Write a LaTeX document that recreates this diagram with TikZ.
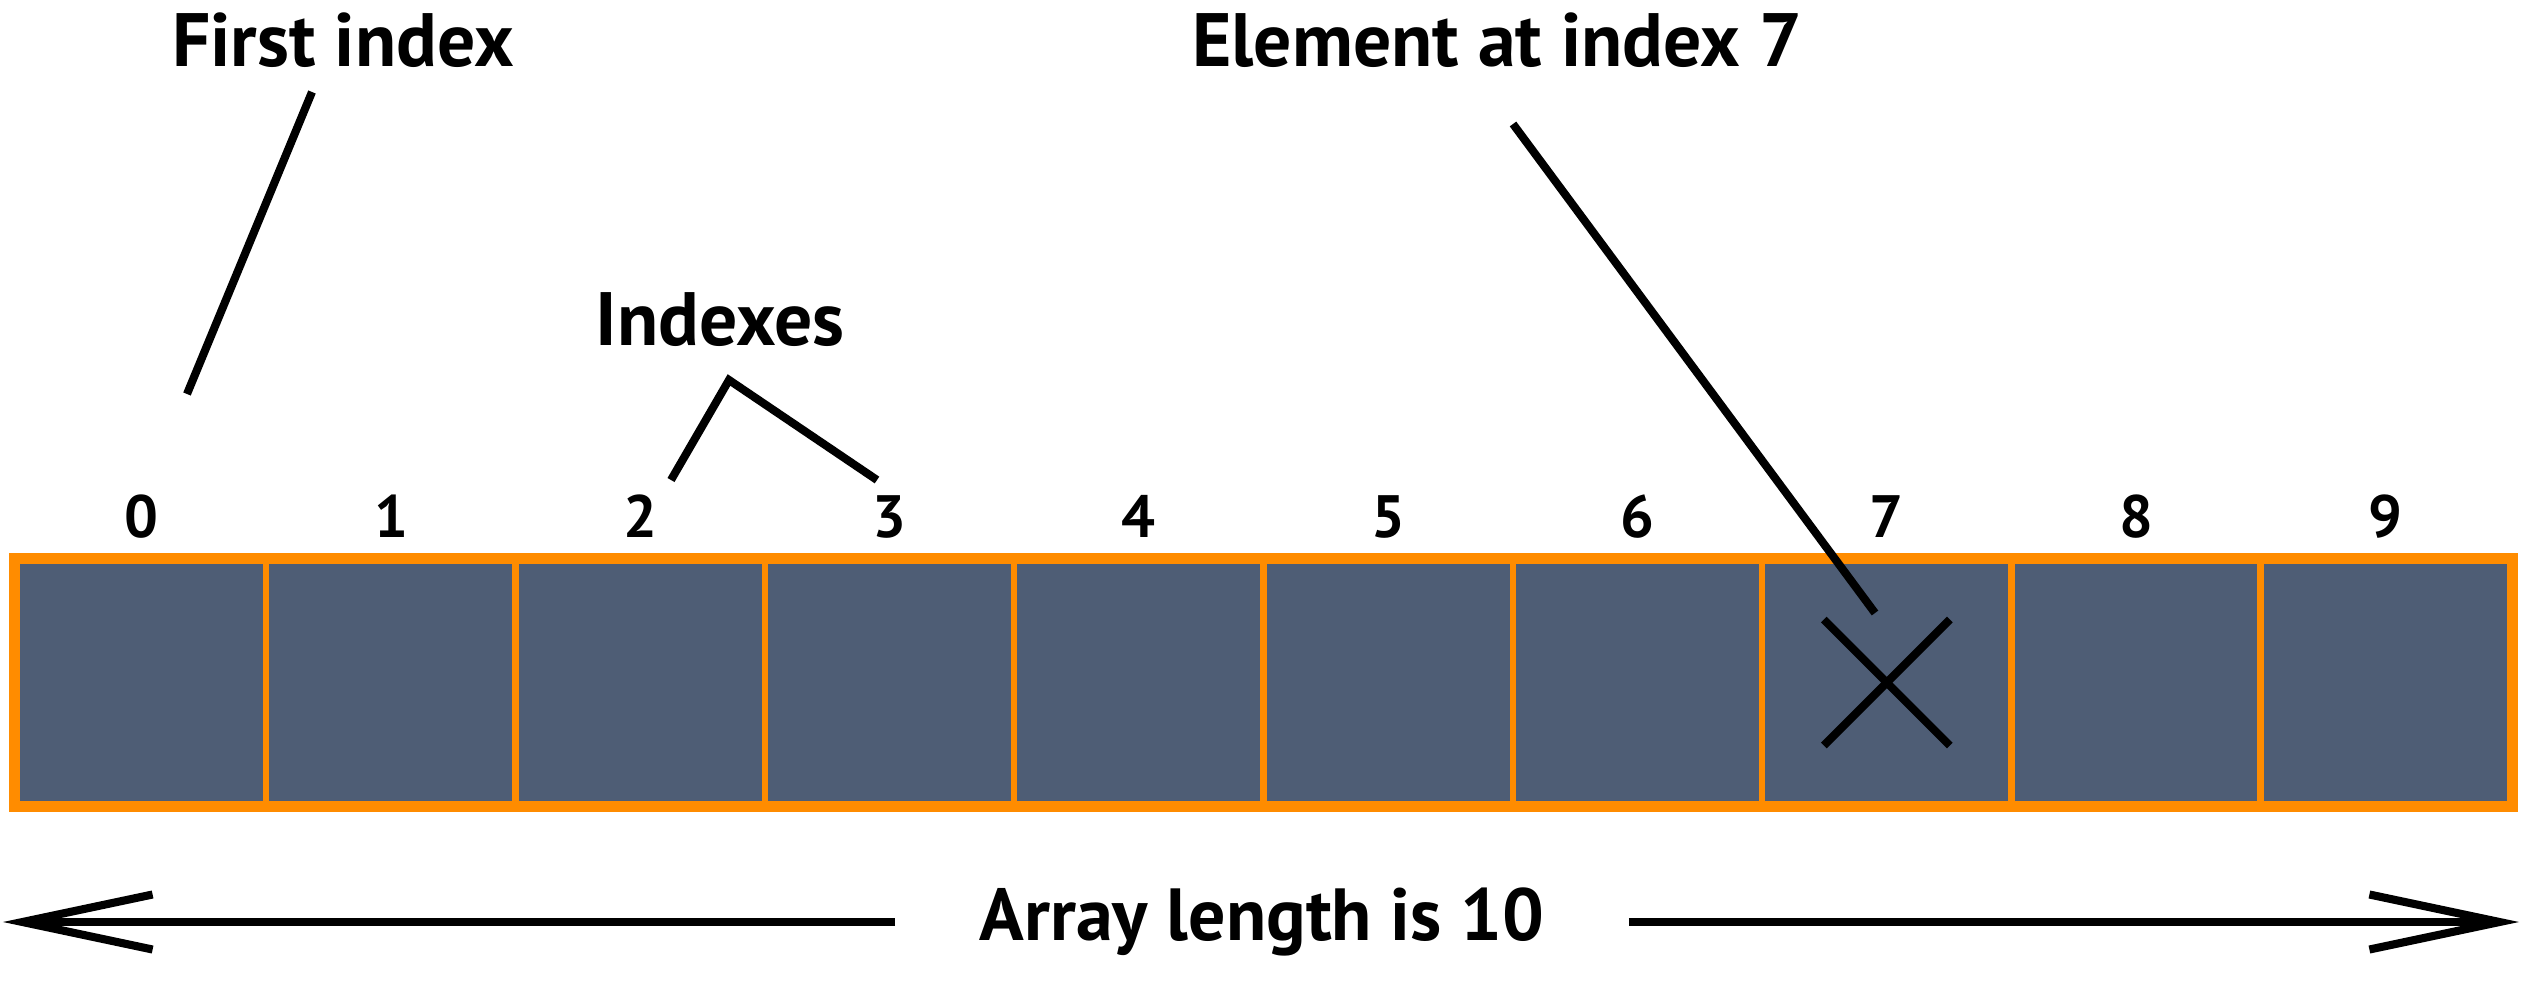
\documentclass[tikz,border=0pt]{standalone}
\usepackage{fontspec}
\setmainfont{PT Sans}
\usetikzlibrary{arrows.meta,positioning}
\definecolor{cellblue}{RGB}{78,93,117}
\definecolor{cellorange}{RGB}{255,140,0}
\tikzset{
  cell/.style={draw=cellorange,fill=cellblue,line width=1.8pt,minimum width=2.493cm,minimum height=2.43cm,inner sep=0pt},
  lbl/.style={font=\bfseries\fontsize{21.5}{26}\selectfont,inner sep=0pt},
  idx/.style={font=\bfseries\fontsize{17}{20}\selectfont,anchor=base,inner sep=0pt},
  lead/.style={line width=2.3pt},
}
\begin{document}
\begin{tikzpicture}[x=0.01cm,y=-0.01cm]
  \useasboundingbox (0,0) rectangle (2524,1003);
  % the array
  \foreach \i in {0,...,9} {
    \node[cell] (c\i) at (141.65+249.3*\i,682.5) {};
    \node[idx] (i\i) at ([yshift=0.2cm]c\i.north) {\i};
  }
  \draw[cellorange,line width=2.6pt] (c0.north west) rectangle (c9.south east);

  % first index
  \node[lbl] (first) at (343,40) {First index};
  \coordinate (firstA) at (312,92);
  \coordinate (firstB) at (187,394);
  \draw[lead] (firstA) -- (firstB);

  % indexes
  \node[lbl] (indexes) at (720,320) {Indexes};
  \coordinate (idxL) at (671,480);
  \coordinate (idxTop) at (729,380);
  \coordinate (idxR) at (877,480);
  \draw[lead] (idxL) -- (idxTop) -- (idxR);

  % element at index 7
  \node[lbl] (elem) at (1497,40) {Element at index 7};
  \coordinate (elemA) at (1513,124);
  \coordinate (elemB) at (1875,613);
  \draw[lead] (elemA) -- (elemB);
  \draw[lead] ([shift={(-63,-63)}]c7.center) -- ([shift={(63,63)}]c7.center);
  \draw[lead] ([shift={(-63,63)}]c7.center) -- ([shift={(63,-63)}]c7.center);

  % length
  \node[lbl,font=\bfseries\fontsize{21}{26}\selectfont,inner xsep=0.84cm] (len) at (1262,922) {Array length is 10};
  \coordinate (leftEnd) at (3,922);
  \coordinate (rightEnd) at (2519,922);
  \draw[lead,-{Straight Barb[length=1.3cm,width=0.55cm]}] (len.west) -- (leftEnd);
  \draw[lead,-{Straight Barb[length=1.3cm,width=0.55cm]}] (len.east) -- (rightEnd);
\end{tikzpicture}
\end{document}
